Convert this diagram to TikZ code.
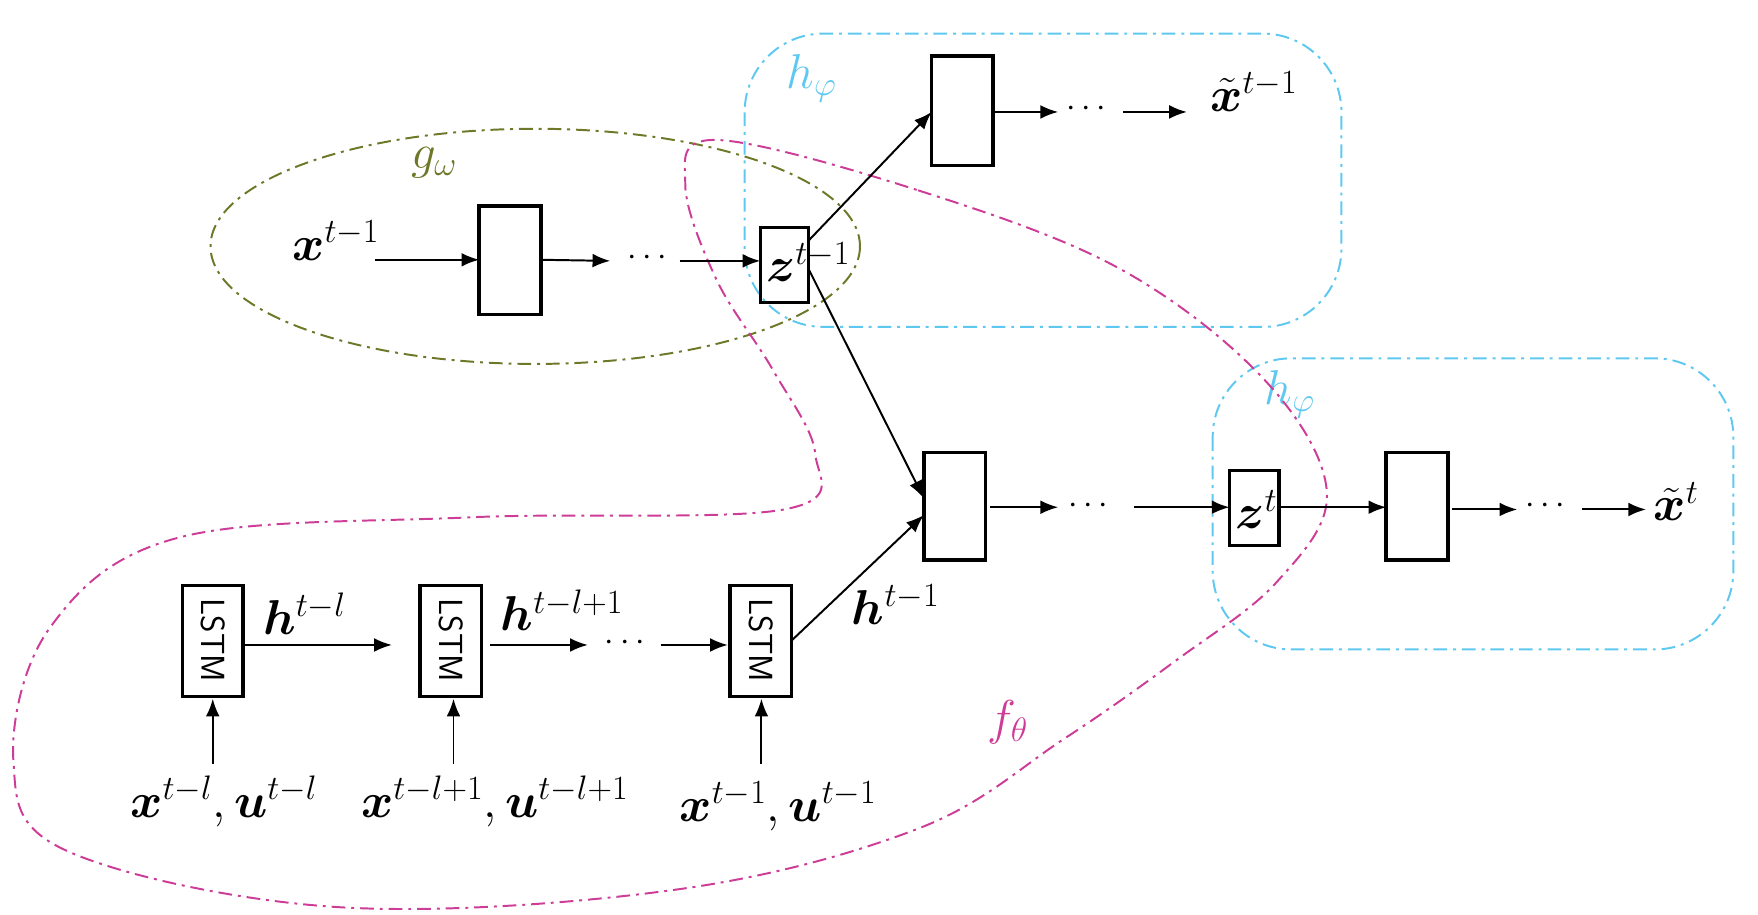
\documentclass[tikz,border=0pt]{standalone}
\usepackage{bm}
\usetikzlibrary{arrows.meta}
\definecolor{olv}{RGB}{110,120,40}
\definecolor{cy}{RGB}{95,200,240}
\definecolor{mg}{RGB}{205,60,150}
\begin{document}
\begin{tikzpicture}[x=0.02cm,y=-0.02cm,
  ar/.style={-{Latex[length=9pt,width=7pt]},line width=1pt},
  lb/.style={font=\fontsize{25}{30}\selectfont},
  dt/.style={font=\fontsize{18}{22}\selectfont},
  dd/.style={dash pattern=on 7pt off 3pt on 1.5pt off 3pt,line width=1pt}]
\useasboundingbox (0,0) rectangle (1570,817);
% groups
\draw[olv,dd] (478,220) ellipse (290 and 105);
\node[lb,text=olv] (g) at (388,145) {$g_\omega$};
\draw[cy,dd,rounded corners=40] (665,30) rectangle (1198,292);
\node[lb,text=cy] (h1) at (725,70) {$h_\varphi$};
\draw[cy,dd,rounded corners=40] (1083,320) rectangle (1548,580);
\node[lb,text=cy] (h2) at (1152,352) {$h_\varphi$};
\draw[mg,dd] plot[smooth cycle,tension=0.6] coordinates {(640,125)(820,170)(1000,240)(1130,340)(1185,440)(1140,520)(1050,590)(950,660)(820,740)(600,795)(300,810)(60,760)(12,680)(45,560)(160,480)(420,462)(700,455)(728,405)(690,330)(640,250)(612,165)};
\node[lb,text=mg] (f) at (900,645) {$f_\theta$};
% top row
\node[lb] (x1) at (300,215) {$\bm{x}^{t-1}$};
\draw[line width=1.8pt] (428,184) rectangle (483,281);
\coordinate (b1w) at (428,232); \coordinate (b1e) at (483,232);
\coordinate (x1e) at (335,232);
\draw[ar] (x1e) -- (b1w);
\coordinate (a1) at (545,233); \draw[ar] (b1e) -- (a1);
\node[dt] (d1) at (578,230) {$\cdots$};
\coordinate (a2s) at (607,233);
\draw[line width=1.8pt] (679,203) rectangle (722,270);
\node[lb,anchor=west] (z1) at (678,234) {$\bm{z}^{t-1}$};
\coordinate (zw) at (679,233);
\draw[ar] (a2s) -- (zw);
% top decoder
\draw[line width=1.8pt] (832,50) rectangle (887,148);
\coordinate (bt) at (832,100); \coordinate (bte) at (887,100);
\coordinate (z1a) at (722,215); \coordinate (z1b) at (722,240);
\draw[ar] (z1a) -- (bt);
\coordinate (a3) at (945,100); \draw[ar] (bte) -- (a3);
\node[dt] (d2) at (970,97) {$\cdots$};
\coordinate (a4s) at (1003,100); \coordinate (a4e) at (1060,100);
\draw[ar] (a4s) -- (a4e);
\node[lb] (xt1) at (1120,82) {$\tilde{\bm{x}}^{t-1}$};
% middle row
\draw[line width=1.8pt] (825,404) rectangle (880,500);
\coordinate (bmw) at (825,445); \coordinate (bmw2) at (825,460); \coordinate (bme) at (884,453);
\draw[ar] (z1b) -- (bmw);
\coordinate (a5) at (945,453); \draw[ar] (bme) -- (a5);
\node[dt] (d3) at (972,452) {$\cdots$};
\coordinate (a6s) at (1013,453); \coordinate (a6e) at (1098,453);
\draw[ar] (a6s) -- (a6e);
\draw[line width=1.8pt] (1098,420) rectangle (1142,487);
\node[lb,anchor=west] (zt) at (1097,455) {$\bm{z}^{t}$};
\coordinate (zte) at (1142,453);
\draw[line width=1.8pt] (1238,404) rectangle (1293,500);
\coordinate (brw) at (1238,453); \coordinate (bre) at (1297,455);
\draw[ar] (zte) -- (brw);
\coordinate (a7) at (1355,455); \draw[ar] (bre) -- (a7);
\node[dt] (d4) at (1380,452) {$\cdots$};
\coordinate (a8s) at (1413,455); \coordinate (a8e) at (1470,455);
\draw[ar] (a8s) -- (a8e);
\node[lb] (xt) at (1497,448) {$\tilde{\bm{x}}^{t}$};
% LSTM row
\foreach \n/\xa/\xb in {L1/163/217,L2/375/430,L3/652/707}{
  \draw[line width=1.8pt] (\xa,523) rectangle (\xb,622);
  \node[rotate=-90,font=\sffamily\fontsize{17}{20}\selectfont] (\n) at ({(\xa+\xb)/2},572) {LSTM};
}
\node[lb] (hl) at (272,548) {$\bm{h}^{t-l}$};
\node[lb] (hl1) at (502,545) {$\bm{h}^{t-l+1}$};
\node[lb] (hm) at (800,540) {$\bm{h}^{t-1}$};
\coordinate (l1e) at (217,576); \coordinate (l2w) at (350,576);
\draw[ar] (l1e) -- (l2w);
\coordinate (l2e) at (438,576); \coordinate (a9) at (525,576);
\draw[ar] (l2e) -- (a9);
\node[dt] (d5) at (558,574) {$\cdots$};
\coordinate (a10s) at (590,576); \coordinate (l3w) at (650,576);
\draw[ar] (a10s) -- (l3w);
\coordinate (l3e) at (707,572);
\draw[ar] (l3e) -- (bmw2);
\foreach \xx/\n in {190/1,405/2,680/3}{
  \coordinate (u\n) at (\xx,682); \coordinate (v\n) at (\xx,624);
  \draw[ar] (u\n) -- (v\n);
}
\node[lb] (i1) at (200,716) {$\bm{x}^{t-l},\bm{u}^{t-l}$};
\node[lb] (i2) at (442,716) {$\bm{x}^{t-l+1},\bm{u}^{t-l+1}$};
\node[lb] (i3) at (695,720) {$\bm{x}^{t-1},\bm{u}^{t-1}$};
\end{tikzpicture}
\end{document}
